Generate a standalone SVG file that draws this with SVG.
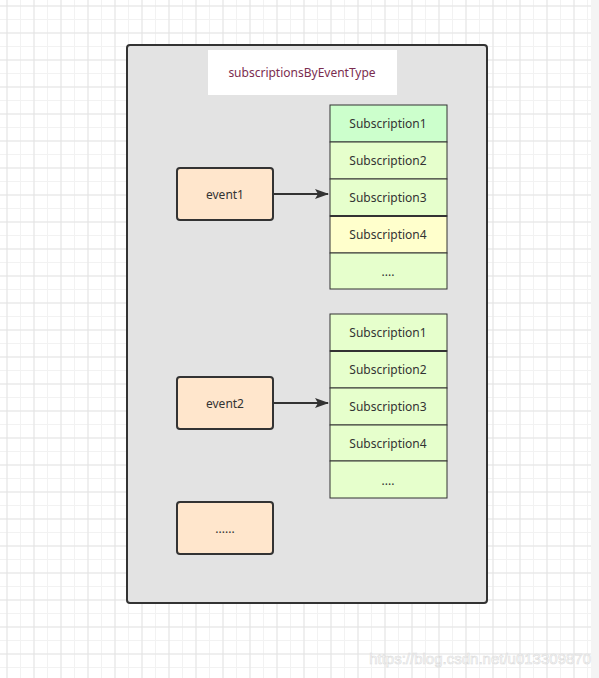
<svg xmlns="http://www.w3.org/2000/svg" width="599" height="678" viewBox="0 0 599 678">
<defs>
<pattern id="minor" width="13.5" height="13.5" patternUnits="userSpaceOnUse" x="6.5" y="5.5">
<path d="M0 0.5H13.5M0.5 0V13.5" fill="none" stroke="#f2f2f2" stroke-width="1"/>
</pattern>
<pattern id="major" width="27" height="27" patternUnits="userSpaceOnUse" x="6.5" y="5.5">
<path d="M0 0.5H27M0.5 0V27" fill="none" stroke="#e4e4e4" stroke-width="1"/>
</pattern>
<marker id="arr" markerWidth="14" markerHeight="10" refX="13" refY="5" orient="auto" markerUnits="userSpaceOnUse">
<path d="M0 0L14 5L0 10L3 5Z" fill="#333"/>
</marker>
<style>
.t{font-family:"Noto Sans","Liberation Sans",sans-serif;font-size:12px;fill:#333;text-anchor:middle;dominant-baseline:central}
.ev{fill:#ffe6cc;stroke:#333;stroke-width:2}
.cell{stroke:#333;stroke-width:1}
.g{fill:#e6ffcc}
.g1{fill:#ccffcc}
.y{fill:#ffffcc}
</style>
</defs>
<rect width="599" height="678" fill="#ffffff"/>
<rect x="0" y="0" width="591" height="678" fill="url(#minor)"/>
<rect x="0" y="0" width="591" height="678" fill="url(#major)"/>
<rect x="591" y="0" width="8" height="678" fill="#f4f4f4"/>
<g id="container">
<rect x="127" y="45" width="360" height="558" rx="3" fill="#e3e3e3" stroke="#333" stroke-width="2"/>
</g>
<g id="title">
<rect x="208" y="50" width="189" height="45" fill="#ffffff"/>
<text class="t" x="302" y="72" style="fill:#7b2d4f">subscriptionsByEventType</text>
</g>
<g id="list1">
<rect class="cell g1" x="330" y="105" width="117" height="37"/>
<text class="t" x="388" y="123">Subscription1</text>
<rect class="cell g" x="330" y="142" width="117" height="37"/>
<text class="t" x="388" y="160">Subscription2</text>
<rect class="cell g" x="330" y="179" width="117" height="37"/>
<text class="t" x="388" y="197">Subscription3</text>
<rect class="cell y" x="330" y="216" width="117" height="37"/>
<text class="t" x="388" y="234">Subscription4</text>
<rect class="cell g" x="330" y="253" width="117" height="36"/>
<text class="t" x="388" y="271">....</text>
<line x1="330" y1="216" x2="447" y2="216" stroke="#333" stroke-width="2"/>
</g>
<g id="list2">
<rect class="cell g" x="330" y="314" width="117" height="37"/>
<text class="t" x="388" y="332">Subscription1</text>
<rect class="cell g" x="330" y="351" width="117" height="37"/>
<text class="t" x="388" y="369">Subscription2</text>
<rect class="cell g" x="330" y="388" width="117" height="37"/>
<text class="t" x="388" y="406">Subscription3</text>
<rect class="cell g" x="330" y="425" width="117" height="36"/>
<text class="t" x="388" y="443">Subscription4</text>
<rect class="cell g" x="330" y="461" width="117" height="37"/>
<text class="t" x="388" y="480">....</text>
<line x1="330" y1="351" x2="447" y2="351" stroke="#333" stroke-width="2"/>
</g>
<g id="event1">
<rect class="ev" x="177" y="168" width="96" height="52" rx="3"/>
<text class="t" x="225" y="194">event1</text>
</g>
<g id="event2">
<rect class="ev" x="177" y="377" width="96" height="52" rx="3"/>
<text class="t" x="225" y="403">event2</text>
</g>
<g id="more">
<rect class="ev" x="177" y="502" width="96" height="52" rx="3"/>
<text class="t" x="225" y="528">......</text>
</g>
<g id="connectors" fill="none" stroke="#333" stroke-width="2">
<line x1="274" y1="194" x2="328" y2="194" marker-end="url(#arr)"/>
<line x1="274" y1="403" x2="328" y2="403" marker-end="url(#arr)"/>
</g>
<text x="591" y="664" font-family="Liberation Sans, Arial, sans-serif" font-size="15" text-anchor="end" fill="#ffffff" stroke="#d8d8d8" stroke-width="0.6" opacity="0.9">https://blog.csdn.net/u013309870</text>
</svg>
